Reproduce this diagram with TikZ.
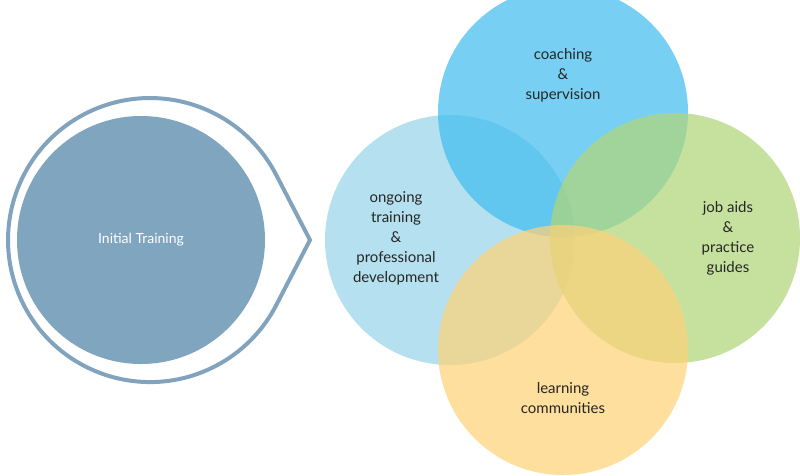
\documentclass[tikz,border=0pt]{standalone}
\usepackage{fontspec}
\setmainfont{Lato}
\begin{document}
\begin{tikzpicture}[x=1pt,y=-1pt,
  lbl/.style={align=center,font=\fontsize{15}{20}\selectfont,text=black!85},
  venn/.style={fill opacity=0.72}]
\useasboundingbox (0,0) rectangle (800,475);
\coordinate (tip) at (310,240);
\draw[line width=4pt,draw={rgb,255:red,130;green,163;blue,190}] (tip) -- (276.1,174.7) arc[start angle=-27.4,end angle=-332.6,radius=142] -- cycle;
\node[circle,minimum size=248pt,fill={rgb,255:red,127;green,165;blue,191},inner sep=0] (init) at (141,240) {};
\node[text=white,font=\fontsize{14}{16}\selectfont] at (init) {Initial Training};
\fill[venn,fill={rgb,255:red,152;green,212;blue,234}] (450,240) circle (125);
\fill[venn,fill={rgb,255:red,66;green,190;blue,240}] (563,112) circle (125);
\fill[venn,fill={rgb,255:red,176;green,214;blue,120}] (675,238) circle (125);
\fill[venn,fill={rgb,255:red,253;green,210;blue,120}] (563,350) circle (125);
\node[lbl] (c) at (563,75) {coaching\\\&\\supervision};
\node[lbl] (o) at (396,238) {ongoing\\training\\\&\\professional\\development};
\node[lbl] (j) at (728,238) {job aids\\\&\\practice\\guides};
\node[lbl] (l) at (563,398) {learning\\communities};
\end{tikzpicture}
\end{document}
